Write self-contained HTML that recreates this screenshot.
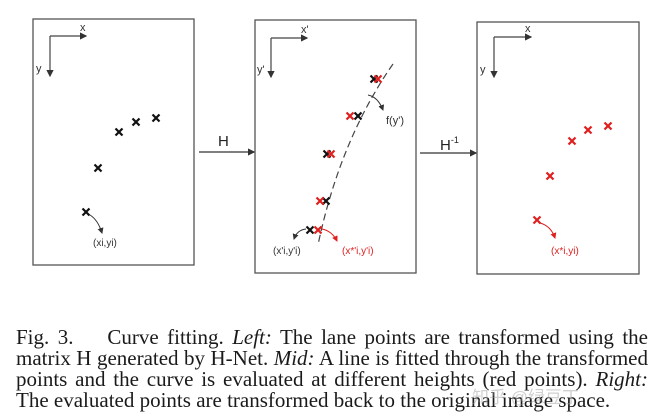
<!DOCTYPE html>
<html><head><meta charset="utf-8"><style>
html,body{margin:0;padding:0;background:#fff;width:656px;height:420px;overflow:hidden;position:relative}
svg{position:absolute;left:0;top:0}
.cap{position:absolute;left:16px;width:632px;font-family:"Liberation Serif",serif;font-size:21px;color:#1a1a1a;line-height:20px;white-space:nowrap}
.j{text-align:justify;text-align-last:justify;white-space:normal}
.wm{position:absolute;left:472px;top:383px;font-family:"Liberation Sans","Noto Sans CJK SC",sans-serif;font-size:17px;color:rgba(150,150,150,0.45)}
</style></head><body>
<svg width="656" height="310" font-family="Liberation Sans, sans-serif">
<defs><marker id="ah" markerWidth="6" markerHeight="6" refX="5" refY="3" orient="auto"><path d="M0,0L6,3L0,6z" fill="#333"/></marker>
<marker id="ahr" markerWidth="6" markerHeight="6" refX="5" refY="3" orient="auto"><path d="M0,0L6,3L0,6z" fill="#e02020"/></marker></defs>
<g id="panels"></g>
</svg>
<div class="cap j" style="top:327px">Fig. 3.&nbsp;&nbsp;&nbsp; Curve fitting. <i>Left:</i> The lane points are transformed using the</div>
<div class="cap j" style="top:348px">matrix H generated by H-Net. <i>Mid:</i> A line is fitted through the transformed</div>
<div class="cap j" style="top:369px">points and the curve is evaluated at different heights (red points). <i>Right:</i></div>
<div class="cap" style="top:390px">The evaluated points are transformed back to the original image space.</div>
<div class="wm">知乎 @绿豆丁</div>
<script>
const leftX=[86,98,119,136,156];
const leftY=[212,168,132,122,118];
const midY=[230,201,154,116,79];
const midBlackX=[310,326,327,358,374];
const midRedX=[318,320,331,350,378];
const rightX=[537,550,572,588,608];
const rightY=[220,176,141,130,126];
const boxes=[[33,19,161,246],[255,20,161,253],[477,22,162,252]];
const NS="http://www.w3.org/2000/svg";
const g=document.getElementById('panels');
function el(t,a,p){const e=document.createElementNS(NS,t);for(const k in a)e.setAttribute(k,a[k]);(p||g).appendChild(e);return e;}
function cross(x,y,c,name){const gg=el('g',{});


el('path',{d:`M${x-3.5},${y-3.5}L${x+3.5},${y+3.5}M${x+3.5},${y-3.5}L${x-3.5},${y+3.5}`,stroke:c,'stroke-width':2.2},gg);}
function txt(x,y,s,c,size,name){const t=el('text',{x:x,y:y,fill:c,'font-size':size});t.textContent=s;

return t;}
boxes.forEach((b,i)=>{const r=el('rect',{x:b[0],y:b[1],width:b[2],height:b[3],fill:'none',stroke:'#555','stroke-width':1.3});

});
[[50,36,86,76,'x','y','left'],[271,38,307,77,"x'","y'",'mid'],[494,37,531,77,'x','y','right']].forEach(a=>{
el('line',{x1:a[0],y1:a[1],x2:a[2],y2:a[1],stroke:'#444','stroke-width':1.2,'marker-end':'url(#ah)'});
el('line',{x1:a[0],y1:a[1],x2:a[0],y2:a[3],stroke:'#444','stroke-width':1.2,'marker-end':'url(#ah)'});
txt(a[2]-6,a[1]-5,a[4],'#333',11,a[6]+'-x-label');txt(a[0]-14,a[3]-4,a[5],'#333',11,a[6]+'-y-label');});
el('line',{x1:199,y1:152,x2:254,y2:152,stroke:'#333','stroke-width':1.2,'marker-end':'url(#ah)'});
txt(218,146,'H','#222',15,'h-label');
el('line',{x1:420,y1:153,x2:476,y2:153,stroke:'#333','stroke-width':1.2,'marker-end':'url(#ah)'});
const hl=txt(440,150,'H','#222',15,'h-inverse-label');
const sup=el('tspan',{dy:-7,'font-size':9},hl);sup.textContent='-1';
el('path',{d:'M393,64 Q340,140 318,245',fill:'none',stroke:'#444','stroke-width':1.2,'stroke-dasharray':'7,4'});
leftX.forEach((x,i)=>cross(x,leftY[i],'#111','left-point-'+i));
midY.forEach((y,i)=>{cross(midBlackX[i],y,'#111','mid-black-point-'+i);cross(midRedX[i],y,'#e02020','mid-red-point-'+i);});
rightX.forEach((x,i)=>cross(x,rightY[i],'#e02020','right-point-'+i));
el('path',{d:'M90,215 Q98,220 102,233',fill:'none',stroke:'#333','stroke-width':1,'marker-end':'url(#ah)'});
txt(93,246,'(xi,yi)','#333',10,'left-point-label');
el('path',{d:'M368,95 Q378,97 383,110',fill:'none',stroke:'#333','stroke-width':1,'marker-end':'url(#ah)'});
txt(386,124,"f(y')",'#333',11,'curve-label');
el('path',{d:'M306,229 Q297,230 294,239',fill:'none',stroke:'#333','stroke-width':1,'marker-end':'url(#ah)'});
txt(273,254,"(x'i,y'i)",'#333',10,'mid-black-label');
el('path',{d:'M322,229 Q332,231 337,241',fill:'none',stroke:'#e02020','stroke-width':1,'marker-end':'url(#ahr)'});
txt(342,254,"(x*'i,y'i)",'#e02020',10,'mid-red-label');
el('path',{d:'M540,223 Q551,226 555,238',fill:'none',stroke:'#e02020','stroke-width':1,'marker-end':'url(#ahr)'});
txt(551,254,'(x*i,yi)','#e02020',10,'right-point-label');
</script>
</body></html>
